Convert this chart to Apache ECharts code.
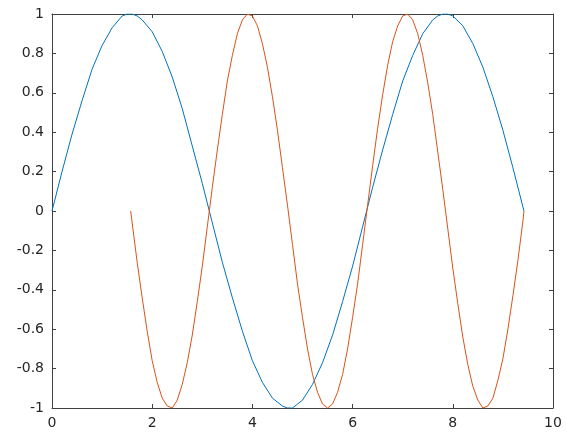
<!DOCTYPE html>
<html><head><meta charset="utf-8">
<script src="https://cdn.jsdelivr.net/npm/echarts@6/dist/echarts.min.js"></script>
<style>html,body{margin:0;padding:0;background:#fff}#c{width:567px;height:437px}</style>
</head><body><div id="c"></div>
<script>
var blueX = [0,0.2,0.4,0.6,0.8,1.0,1.2,1.4,1.5,1.6,1.7,1.8,2.0,2.2,2.4,2.6,2.8,3.0,3.2,3.4,3.6,3.8,4.0,4.2,4.4,4.6,4.7,4.8,4.9,5.0,5.2,5.4,5.6,5.8,6.0,6.2,6.4,6.6,6.8,7.0,7.2,7.4,7.6,7.7,7.8,7.9,8.0,8.2,8.4,8.6,8.8,9.0,9.2,9.4,9.42];
var blueY = [0,0.20,0.39,0.56,0.72,0.84,0.93,0.99,1.00,1.00,0.99,0.97,0.91,0.81,0.68,0.52,0.33,0.14,-0.06,-0.26,-0.44,-0.61,-0.76,-0.87,-0.95,-0.99,-1.00,-1.00,-0.98,-0.96,-0.88,-0.77,-0.63,-0.46,-0.28,-0.08,0.12,0.31,0.49,0.66,0.79,0.90,0.97,0.99,1.00,1.00,0.99,0.94,0.85,0.73,0.58,0.41,0.22,0.02,0.00];
var orangeX = [1.57,1.7,1.8,1.9,2.0,2.1,2.2,2.3,2.4,2.5,2.6,2.7,2.8,2.9,3.0,3.1,3.2,3.3,3.4,3.5,3.6,3.7,3.8,3.9,4.0,4.1,4.2,4.3,4.4,4.5,4.6,4.7,4.8,4.9,5.0,5.1,5.2,5.3,5.4,5.5,5.6,5.7,5.8,5.9,6.0,6.1,6.2,6.3,6.4,6.5,6.6,6.7,6.8,6.9,7.0,7.1,7.2,7.3,7.4,7.5,7.6,7.7,7.8,7.9,8.0,8.1,8.2,8.3,8.4,8.5,8.6,8.7,8.8,8.9,9.0,9.1,9.2,9.3,9.4,9.42];
var orangeY = [0,-0.26,-0.44,-0.61,-0.76,-0.87,-0.95,-0.99,-1.00,-0.96,-0.88,-0.77,-0.63,-0.46,-0.28,-0.08,0.12,0.31,0.49,0.66,0.79,0.90,0.97,1.00,0.99,0.94,0.85,0.73,0.58,0.41,0.22,0.03,-0.17,-0.37,-0.54,-0.70,-0.83,-0.92,-0.98,-1.00,-0.98,-0.92,-0.83,-0.70,-0.54,-0.37,-0.17,0.03,0.23,0.42,0.59,0.74,0.86,0.94,0.99,1.00,0.97,0.90,0.79,0.65,0.49,0.30,0.11,-0.09,-0.29,-0.47,-0.64,-0.78,-0.89,-0.96,-1.00,-0.99,-0.95,-0.86,-0.75,-0.60,-0.43,-0.25,-0.05,0.00];

function zip(xs, ys){ return xs.map(function(x,i){ return [x, ys[i]]; }); }

var axisCol = '#404040';
var txtCol = '#262626';
var font = 'DejaVu Sans';
function xAx(pos, labels){
  return {type:'value', position:pos, min:0, max:10, interval:2,
    axisLine:{show:true, onZero:false, lineStyle:{color:axisCol, width:1}},
    axisTick:{show:true, inside:true, length:4, lineStyle:{color:axisCol}},
    axisLabel:{show:labels, color:txtCol, fontFamily:font, fontSize:14, margin:8},
    splitLine:{show:false}};
}
function yAx(pos, labels){
  return {type:'value', position:pos, min:-1, max:1, interval:0.2,
    axisLine:{show:true, onZero:false, lineStyle:{color:axisCol, width:1}},
    axisTick:{show:true, inside:true, length:4, lineStyle:{color:axisCol}},
    axisLabel:{show:labels, color:txtCol, fontFamily:font, fontSize:14, margin:8,
      formatter:function(v){ return String(Math.round(v*10)/10); }},
    splitLine:{show:false}};
}
var chart = echarts.init(document.getElementById('c'), null, {renderer:'canvas'});
chart.setOption({
  animation:false,
  backgroundColor:'#fff',
  grid:{left:52, right:14, top:14, bottom:29, containLabel:false},
  xAxis:[xAx('bottom', true), xAx('top', false)],
  yAxis:[yAx('left', true), yAx('right', false)],
  series:[
    {type:'line', xAxisIndex:0, yAxisIndex:0, data:zip(blueX, blueY), showSymbol:false, symbol:'none',
      lineStyle:{color:'#0072BD', width:1}, itemStyle:{color:'#0072BD'}},
    {type:'line', xAxisIndex:0, yAxisIndex:0, data:zip(orangeX, orangeY), showSymbol:false, symbol:'none',
      lineStyle:{color:'#D95319', width:1}, itemStyle:{color:'#D95319'}}
  ]
});
</script></body></html>
